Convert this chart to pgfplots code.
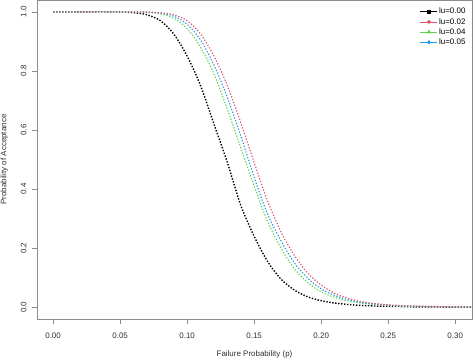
\documentclass[border=0pt]{standalone}
\usepackage{pgfplots}
\usepackage{pgfplotstable}
\usepackage{fontspec}
\setmainfont{Liberation Sans}
\pgfplotsset{compat=1.18}
\definecolor{rred}{HTML}{DF536B}
\definecolor{rgreen}{HTML}{61D04F}
\definecolor{rblue}{HTML}{2297E6}
\definecolor{axgray}{HTML}{8C8C8C}
\definecolor{txt}{HTML}{303030}

\pgfplotstableread{
p P
0.00 1.0
0.01 1.0
0.02 1.0
0.03 1.0
0.04 1.0
0.05 0.999
0.06 0.997
0.07 0.99
0.08 0.97
0.09 0.925
0.10 0.85
0.11 0.75
0.12 0.62
0.13 0.49
0.14 0.345
0.15 0.24
0.16 0.155
0.17 0.095
0.18 0.058
0.19 0.035
0.20 0.022
0.21 0.014
0.22 0.009
0.23 0.006
0.24 0.004
0.25 0.003
0.26 0.002
0.27 0.001
0.28 0.001
0.29 0.0005
0.30 0.0
0.31 0.0
0.32 0.0
}\dataA

\pgfplotstableread{
p P
0.00 1.0
0.01 1.0
0.02 1.0
0.03 1.0
0.04 1.0
0.05 1.0
0.06 1.0
0.07 0.999
0.08 0.997
0.09 0.99
0.10 0.97
0.11 0.925
0.12 0.85
0.13 0.75
0.14 0.625
0.15 0.49
0.16 0.36
0.17 0.255
0.18 0.175
0.19 0.115
0.20 0.075
0.21 0.047
0.22 0.03
0.23 0.019
0.24 0.012
0.25 0.008
0.26 0.0055
0.27 0.004
0.28 0.0028
0.29 0.002
0.30 0.0014
0.31 0.001
0.32 0.001
}\dataB

\pgfplotstableread{
p P
0.00 1.0
0.01 1.0
0.02 1.0
0.03 1.0
0.04 1.0
0.05 1.0
0.06 1.0
0.07 0.998
0.08 0.993
0.09 0.978
0.10 0.943
0.11 0.88
0.12 0.79
0.13 0.67
0.14 0.54
0.15 0.41
0.16 0.29
0.17 0.20
0.18 0.13
0.19 0.083
0.20 0.052
0.21 0.033
0.22 0.021
0.23 0.014
0.24 0.009
0.25 0.006
0.26 0.004
0.27 0.003
0.28 0.002
0.29 0.0015
0.30 0.001
0.31 0.001
0.32 0.001
}\dataC

\pgfplotstableread{
p P
0.00 1.0
0.01 1.0
0.02 1.0
0.03 1.0
0.04 1.0
0.05 1.0
0.06 1.0
0.07 0.999
0.08 0.996
0.09 0.985
0.10 0.958
0.11 0.905
0.12 0.82
0.13 0.71
0.14 0.58
0.15 0.44
0.16 0.315
0.17 0.225
0.18 0.15
0.19 0.098
0.20 0.062
0.21 0.04
0.22 0.025
0.23 0.016
0.24 0.011
0.25 0.007
0.26 0.005
0.27 0.0035
0.28 0.0025
0.29 0.0018
0.30 0.0013
0.31 0.001
0.32 0.001
}\dataD

\begin{document}
\begin{tikzpicture}
\begin{axis}[
  scale only axis,
  width=435bp, height=319bp,
  xmin=-0.012, xmax=0.3125,
  ymin=-0.04, ymax=1.04,
  axis line style={axgray, line width=0.8pt},
  tick style={axgray, line width=0.6pt},
  tick align=outside, tick pos=left,
  major tick length=5bp,
  xtick={0,0.05,0.1,0.15,0.2,0.25,0.3},
  ytick={0,0.2,0.4,0.6,0.8,1.0},
  xticklabel style={yshift=-5bp, /pgf/number format/.cd, fixed, fixed zerofill, precision=2, assume math mode=true},
  yticklabel style={xshift=-2bp, rotate=90, anchor=south, /pgf/number format/.cd, fixed, fixed zerofill, precision=1, assume math mode=true},
  ticklabel style={font=\fontsize{8}{9.5}\selectfont, text=txt},
  xlabel={Failure Probability (p)},
  ylabel={Probability of Acceptance},
  label style={font=\fontsize{8}{9.5}\selectfont, text=txt},
  xlabel style={yshift=-6bp},
  ylabel style={yshift=6bp},
  legend style={draw=none, fill=none, at={(rel axis cs:0.995,0.985)}, anchor=north east,
    font=\fontsize{8}{9}\selectfont, row sep=0.5pt, nodes={inner sep=1.2pt}},
  legend cell align=left,
  clip=true,
]
\addplot[black, line width=1.4pt, dash pattern=on 1.4pt off 1.6pt, smooth, forget plot] table[x=p,y=P] {\dataA};
\addplot[rgreen, line width=1.1pt, dash pattern=on 1.3pt off 1.7pt, smooth, forget plot] table[x=p,y=P] {\dataC};
\addplot[rblue, line width=1.1pt, dash pattern=on 1.3pt off 1.7pt, smooth, forget plot] table[x=p,y=P] {\dataD};
\addplot[rred, line width=1.1pt, dash pattern=on 1.3pt off 1.7pt, smooth, forget plot] table[x=p,y=P] {\dataB};
\addlegendimage{black, line width=0.8pt, mark=square*, mark size=1.5pt}
\addlegendimage{rred, line width=0.8pt, mark=*, mark size=1.5pt}
\addlegendimage{rgreen, line width=0.8pt, mark=triangle*, mark size=1.8pt}
\addlegendimage{rblue, line width=0.8pt, mark=diamond*, mark size=1.6pt}
\legend{lu=0.00, lu=0.02, lu=0.04, lu=0.05}
\end{axis}
\pgfresetboundingbox
\path[use as bounding box] ([xshift=-37bp,yshift=-40bp]current axis.south west) rectangle ([xshift=2bp]current axis.north east);
\end{tikzpicture}
\end{document}
